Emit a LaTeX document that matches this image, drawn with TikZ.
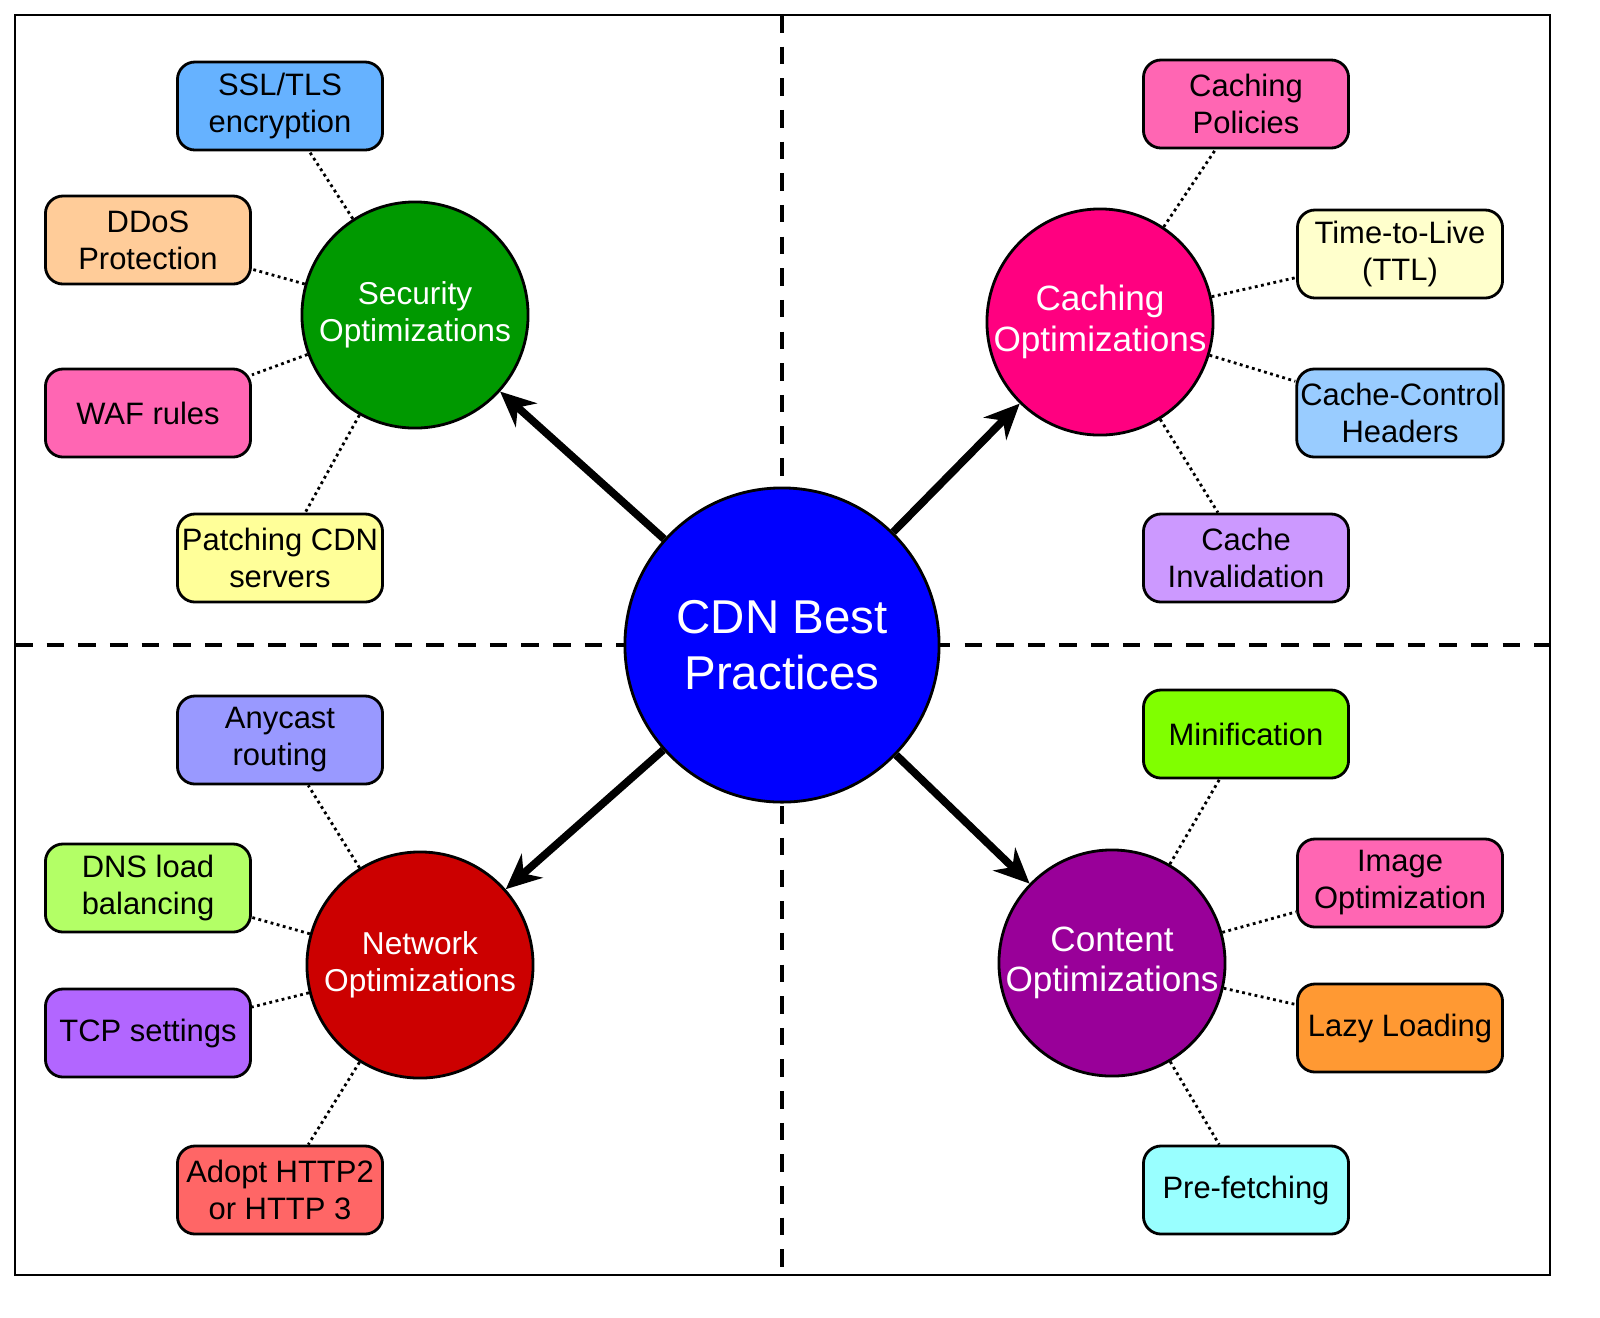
\documentclass[tikz,border=0pt]{standalone}
\usepackage{fontspec}
\setmainfont{Liberation Sans}
\usetikzlibrary{arrows.meta}
\definecolor{cSsl}{HTML}{66B2FF}
\definecolor{cDdos}{HTML}{FFCC99}
\definecolor{cPink}{HTML}{FF66B3}
\definecolor{cPatch}{HTML}{FFFF99}
\definecolor{cTtl}{HTML}{FFFFCC}
\definecolor{cCtrl}{HTML}{99CCFF}
\definecolor{cInval}{HTML}{CC99FF}
\definecolor{cAny}{HTML}{9999FF}
\definecolor{cDns}{HTML}{B3FF66}
\definecolor{cTcp}{HTML}{B266FF}
\definecolor{cHttp}{HTML}{FF6666}
\definecolor{cMin}{HTML}{80FF00}
\definecolor{cLazy}{HTML}{FF9933}
\definecolor{cPre}{HTML}{99FFFF}
\definecolor{cSec}{HTML}{009900}
\definecolor{cCach}{HTML}{FF0080}
\definecolor{cNet}{HTML}{CC0000}
\definecolor{cCont}{HTML}{990099}
\tikzset{
  leaf/.style={draw, thick, rounded corners=5pt, minimum width=2.05cm, minimum height=0.88cm,
    align=center, font=\fontsize{8.8}{10.5}\selectfont, inner sep=1pt},
  hub/.style={draw, thick, circle, minimum size=2.26cm, align=center, text=white,
    font=\fontsize{9}{10.5}\selectfont, inner sep=-6pt},
  spoke/.style={densely dotted, thick},
  push/.style={line width=2.2pt, -{Stealth[length=10pt,width=9pt]}},
  split/.style={line width=1.1pt, dash pattern=on 5pt off 4pt}
}
\begin{document}
\begin{tikzpicture}[x=0.01cm, y=-0.01cm]
  \useasboundingbox (0,0) rectangle (1600,1317);
  % Frame and quadrants
  \draw[thick] (15,15) rectangle (1550,1275);
  \draw[split] (782,15) -- (782,1275);
  \draw[split] (15,645) -- (1550,645);

  % Hubs
  \node[hub, fill=blue, minimum size=3.14cm, font=\fontsize{13.5}{16}\selectfont] (cdn) at (782,645) {CDN Best\\Practices};
  \node[hub, fill=cSec] (sec) at (415,315) {Security\\Optimizations};
  \node[hub, fill=cCach, font=\fontsize{10}{11.5}\selectfont] (cach) at (1100,322) {Caching\\Optimizations};
  \node[hub, fill=cNet] (net) at (420,965) {Network\\Optimizations};
  \node[hub, fill=cCont, font=\fontsize{10}{11.5}\selectfont] (cont) at (1112,963) {Content\\Optimizations};

  % Security leaves
  \node[leaf, fill=cSsl] (ssl) at (280,106) {SSL/TLS\\encryption};
  \node[leaf, fill=cDdos] (ddos) at (148,240) {DDoS\\Protection};
  \node[leaf, fill=cPink] (waf) at (148,413) {WAF rules};
  \node[leaf, fill=cPatch] (patch) at (280,558) {Patching CDN\\servers};
  % Caching leaves
  \node[leaf, fill=cPink] (policy) at (1246,104) {Caching\\Policies};
  \node[leaf, fill=cTtl] (ttl) at (1400,254) {Time-to-Live\\(TTL)};
  \node[leaf, fill=cCtrl] (ctrl) at (1400,413) {Cache-Control\\Headers};
  \node[leaf, fill=cInval] (inval) at (1246,558) {Cache\\Invalidation};
  % Network leaves
  \node[leaf, fill=cAny] (any) at (280,740) {Anycast\\routing};
  \node[leaf, fill=cDns] (dns) at (148,888) {DNS load\\balancing};
  \node[leaf, fill=cTcp] (tcp) at (148,1033) {TCP settings};
  \node[leaf, fill=cHttp] (http) at (280,1190) {Adopt HTTP2\\or HTTP 3};
  % Content leaves
  \node[leaf, fill=cMin] (mini) at (1246,734) {Minification};
  \node[leaf, fill=cPink] (img) at (1400,883) {Image\\Optimization};
  \node[leaf, fill=cLazy] (lazy) at (1400,1028) {Lazy Loading};
  \node[leaf, fill=cPre] (pre) at (1246,1190) {Pre-fetching};

  % Spokes
  \foreach \h/\l in {sec/ssl, sec/ddos, sec/waf, sec/patch,
                     cach/policy, cach/ttl, cach/ctrl, cach/inval,
                     net/any, net/dns, net/tcp, net/http,
                     cont/mini, cont/img, cont/lazy, cont/pre}
    \draw[spoke] (\h) -- (\l);

  % Arrows
  \foreach \h in {sec, cach, net, cont}
    \draw[push] (cdn) -- (\h);
\end{tikzpicture}
\end{document}
